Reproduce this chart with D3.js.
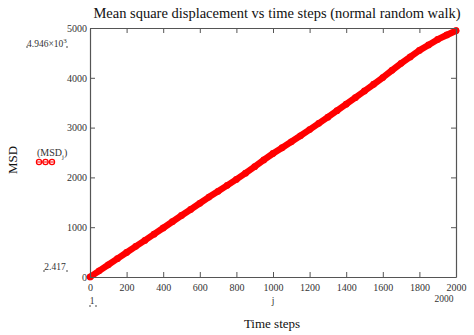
<!DOCTYPE html>
<html>
<head>
<meta charset="utf-8">
<script src="https://cdn.jsdelivr.net/npm/d3@7"></script>
<style>
  html, body { margin: 0; padding: 0; background: #fff; }
  svg { display: block; font-family: "Liberation Serif", "Times New Roman", serif; }
</style>
</head>
<body>
<svg id="chart" width="474" height="335"></svg>
<script>
// Time step index j (sampled) and mean square displacement at that step
const steps = [1, 50, 100, 150, 200, 250, 300, 350, 400, 450, 500, 550, 600, 650, 700, 750,
  800, 850, 900, 950, 1000, 1050, 1100, 1150, 1200, 1250, 1300, 1350, 1400, 1450, 1500,
  1550, 1600, 1650, 1700, 1750, 1800, 1850, 1900, 1950, 2000];
const msd = [2.417, 124, 245, 368, 492, 615, 735, 860, 985, 1110, 1235, 1355, 1480, 1605,
  1720, 1840, 1960, 2085, 2215, 2350, 2480, 2595, 2715, 2835, 2960, 3085, 3210, 3340,
  3470, 3600, 3735, 3870, 4005, 4150, 4290, 4420, 4550, 4660, 4770, 4860, 4946];

const xTicks = [0, 200, 400, 600, 800, 1000, 1200, 1400, 1600, 1800, 2000];
const yTicks = [0, 1000, 2000, 3000, 4000, 5000];

const svg = d3.select("#chart");
const plotL = 90, plotR = 456, plotT = 28, plotB = 277;

const x = d3.scaleLinear().domain([0, 2000]).range([plotL, plotR]);
const y = d3.scaleLinear().domain([0, 5000]).range([plotB, plotT]);

const axisColor = "#555";
const textColor = "#333";

// data line (thick red trace with circle markers)
const data = steps.map((s, i) => [s, msd[i]]);
svg.append("path")
  .datum(data)
  .attr("fill", "none")
  .attr("stroke", "#f00")
  .attr("stroke-width", 6.5)
  .attr("stroke-linejoin", "round")
  .attr("stroke-linecap", "round")
  .attr("d", d3.line().x(d => x(d[0])).y(d => y(d[1])));

svg.append("g").selectAll("circle")
  .data(data)
  .join("circle")
  .attr("cx", d => x(d[0]))
  .attr("cy", d => y(d[1]))
  .attr("r", 3.4)
  .attr("fill", "#f00");

// frame with inward ticks on all sides
const tickLen = 5;
const bottomAxis = svg.append("g").attr("transform", `translate(0,${plotB})`)
  .call(d3.axisBottom(x).tickValues(xTicks).tickSizeInner(-tickLen).tickSizeOuter(0).tickPadding(7)
    .tickFormat(d3.format("d")));
const topAxis = svg.append("g").attr("transform", `translate(0,${plotT})`)
  .call(d3.axisTop(x).tickValues(xTicks).tickSizeInner(-tickLen).tickSizeOuter(0).tickFormat(""));
const leftAxis = svg.append("g").attr("transform", `translate(${plotL},0)`)
  .call(d3.axisLeft(y).tickValues(yTicks).tickSizeInner(-tickLen).tickSizeOuter(0).tickPadding(3)
    .tickFormat(d3.format("d")));
const rightAxis = svg.append("g").attr("transform", `translate(${plotR},0)`)
  .call(d3.axisRight(y).tickValues(yTicks).tickSizeInner(-tickLen).tickSizeOuter(0).tickFormat(""));

[bottomAxis, topAxis, leftAxis, rightAxis].forEach(g => {
  g.select(".domain").attr("stroke", axisColor).attr("stroke-width", 1.2);
  g.selectAll(".tick line").attr("stroke", axisColor);
  g.selectAll("text").attr("fill", textColor)
    .style("font-family", "'Liberation Serif', serif").style("font-size", "10px");
});

// title
svg.append("text")
  .attr("x", 277).attr("y", 18)
  .attr("text-anchor", "middle")
  .attr("fill", "#111")
  .style("font-size", "14.5px")
  .text("Mean square displacement vs time steps (normal random walk)");

// axis titles
svg.append("text")
  .attr("x", 272).attr("y", 328)
  .attr("text-anchor", "middle")
  .attr("fill", "#111")
  .style("font-size", "13px")
  .text("Time steps");

svg.append("text")
  .attr("transform", "translate(17,160) rotate(-90)")
  .attr("text-anchor", "middle")
  .attr("fill", "#111")
  .style("font-size", "13px")
  .text("MSD");

// range markers
const small = "9.5px";
function marker(xp, yp, txt, anchor) {
  return svg.append("text").attr("x", xp).attr("y", yp)
    .attr("text-anchor", anchor || "middle")
    .attr("fill", textColor).style("font-size", small).text(txt);
}
const hi = svg.append("text").attr("x", 27).attr("y", 47)
  .attr("fill", textColor).style("font-size", small);
hi.append("tspan").text("4.946\u00d710");
hi.append("tspan").attr("dy", -4).style("font-size", "7px").text("3");
marker(55, 270, "2.417");
marker(92, 304, "1");
marker(273, 304, "j");
marker(444, 302, "2000");

// small corner dots around markers
const dots = [[27, 47], [67, 47], [44, 271], [67, 271], [90, 306], [96, 306]];
svg.append("g").selectAll("circle").data(dots).join("circle")
  .attr("cx", d => d[0]).attr("cy", d => d[1]).attr("r", 0.8).attr("fill", "#333");

// legend trace label
const lg = svg.append("text").attr("x", 37).attr("y", 156)
  .attr("fill", textColor).style("font-size", "10px");
lg.append("tspan").text("(MSD");
lg.append("tspan").attr("dy", 2.5).style("font-size", "7px").text("j");
lg.append("tspan").attr("dy", -2.5).text(")");

svg.append("line").attr("x1", 36).attr("x2", 55).attr("y1", 162).attr("y2", 162)
  .attr("stroke", "#f00").attr("stroke-width", 1);
svg.append("g").selectAll("circle").data([39, 45.5, 52]).join("circle")
  .attr("cx", d => d).attr("cy", 162).attr("r", 2.6)
  .attr("fill", "none").attr("stroke", "#f00").attr("stroke-width", 1.2);
</script>
</body>
</html>
